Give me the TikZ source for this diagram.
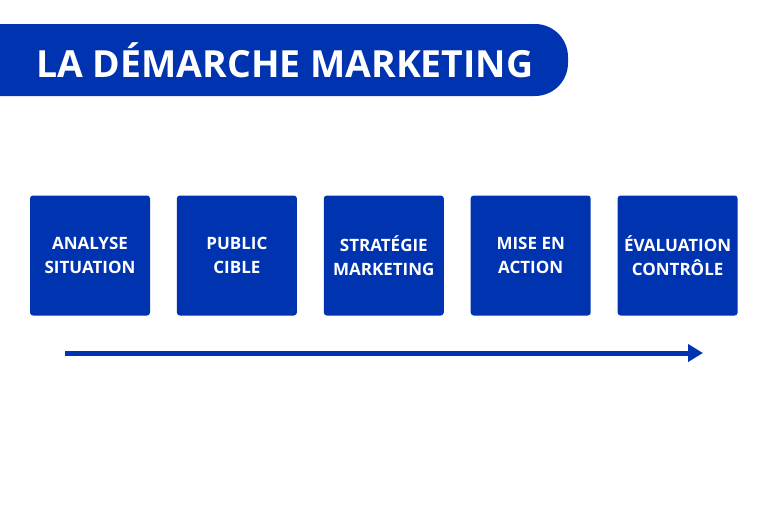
\documentclass[tikz,border=0pt]{standalone}
\usepackage{fontspec}
\setmainfont{Open Sans}
\usetikzlibrary{positioning,arrows.meta}
\definecolor{mblue}{RGB}{0,51,176}
\tikzset{
  stepbox/.style={fill=mblue, rounded corners=3pt, minimum width=120pt, minimum height=120pt,
    inner sep=0pt, text=white, align=center, font=\bfseries\fontsize{17}{24}\selectfont},
  flow/.style={draw=mblue, line width=5pt, -{Triangle[length=15pt,width=17pt]}}
}
\begin{document}
\begin{tikzpicture}[x=1pt,y=-1pt]
        \useasboundingbox[fill=white] (0,0) rectangle (768,512);
        % banner
        \fill[mblue, rounded corners=33pt] (-60,24) rectangle (568,96);
        \node[anchor=west, text=white, font=\bfseries\fontsize{37.4}{40}\selectfont, inner sep=0pt] (title) at (36,60) {LA DÉMARCHE MARKETING};
        % steps
        \node[stepbox] (s1) at (90,255.5) {ANALYSE\\SITUATION};
        \node[stepbox] (s2) [right=26.5pt of s1] {PUBLIC\\CIBLE};
        \node[stepbox] (s3) [right=26.5pt of s2] {STRATÉGIE\\MARKETING};
        \node[stepbox] (s4) [right=26.5pt of s3] {MISE EN\\ACTION};
        \node[stepbox] (s5) [right=26.5pt of s4] {ÉVALUATION\\CONTRÔLE};
        \coordinate (a0) at (65,353);
        \coordinate (a1) at (703,353);
        \draw[flow] (a0) -- (a1);
\end{tikzpicture}
\end{document}
